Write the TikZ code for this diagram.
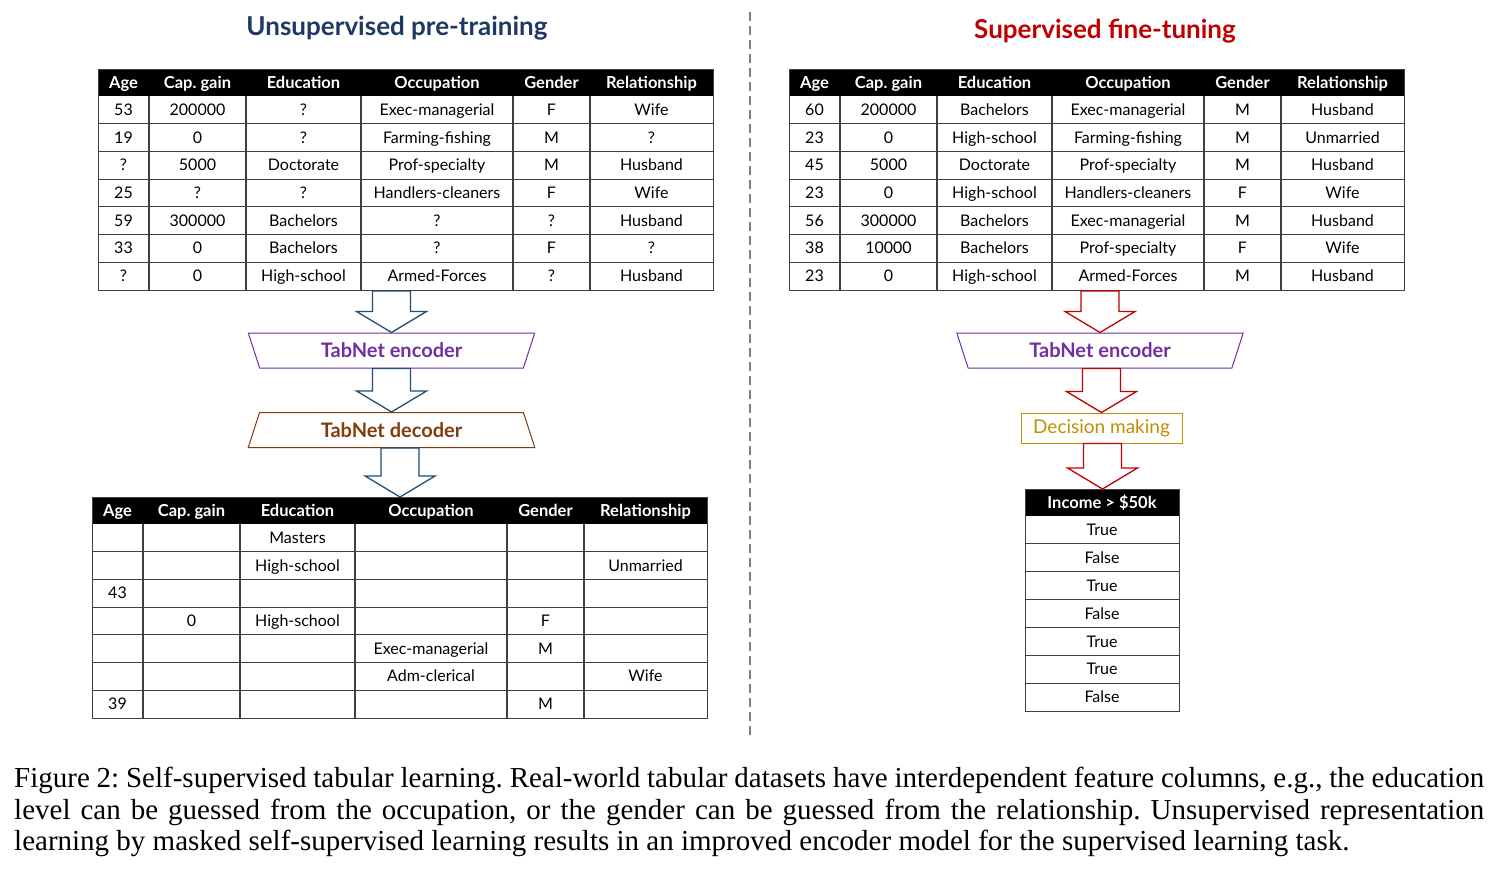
\documentclass[tikz,border=0pt]{standalone}
\usepackage{fontspec}
\setmainfont{Liberation Serif}
\newfontfamily\tabfont{Lato}
\usetikzlibrary{calc,shapes.geometric}

\definecolor{titleblue}{HTML}{1F3864}
\definecolor{titlered}{HTML}{C00000}
\definecolor{encpurple}{HTML}{7030A0}
\definecolor{decbrown}{HTML}{843C0C}
\definecolor{decgold}{HTML}{BF9000}
\definecolor{arrowblue}{HTML}{1F4E79}
\definecolor{arrowred}{HTML}{C00000}

\newcommand{\colcenters}{{25.5,99.5,205.5,339,453.5,553.5}}

% hollow block arrow, from the y of #2 down to the tip #3
\newcommand{\blockarrow}[3]{%
  \draw[#1] let \p1=(#2), \p2=(#3) in
    (\x2-19pt,\y1) -- (\x2+19pt,\y1) -- (\x2+19pt,\y2+21pt) -- (\x2+35pt,\y2+21pt)
    -- (\x2,\y2) -- (\x2-35pt,\y2+21pt) -- (\x2-19pt,\y2+21pt) -- cycle;}

% header, grid and frame of a feature table (7 rows)
\newcommand{\featuregrid}[1]{%
  \fill (0,0) rectangle (615,27);
  \foreach \x in {51,148,263,415,492}
    \draw[gridline] (\x,27) -- (\x,220.9);
  \foreach \r in {1,...,6}
    \draw[gridline] (0,{27+27.7*\r}) -- (615,{27+27.7*\r});
  \foreach \name [count=\c] in {Age,Cap. gain,Education,Occupation,Gender,Relationship}{
    \pgfmathsetmacro{\cx}{\colcenters[\c-1]}
    \node[headtext] (#1-h\c) at (\cx,13.5) {\name};
  }
  \node[tableframe, minimum width=615pt, minimum height=220.9pt] (#1) at (0,0) {};
}

\begin{document}
\frenchspacing
\begin{tikzpicture}[
            x=1pt, y=-1pt,
            gridline/.style={
                draw=black!75, line width=1.1pt
            },
            tableframe/.style={
                draw=black!75, line width=1.1pt, anchor=north west, inner sep=0pt
            },
            headtext/.style={
                text=white, inner sep=0pt, text height=13.5pt, text depth=2pt,
                font=\tabfont\bfseries\fontsize{16.5}{19}\selectfont
            },
            celltext/.style={
                inner sep=0pt, text height=13pt, text depth=2pt,
                font=\tabfont\fontsize{16}{19}\selectfont
            },
            titletext/.style={
                inner sep=0pt, font=\tabfont\bfseries\fontsize{26}{31}\selectfont
            },
            encoder/.style={
                trapezium, shape border rotate=180, trapezium angle=68,
                trapezium stretches=true, minimum width=287pt, minimum height=35pt,
                inner sep=0pt, draw=encpurple, line width=1pt, text=encpurple,
                font=\tabfont\bfseries\fontsize{20}{24}\selectfont
            },
            decoder/.style={
                encoder, shape border rotate=0, draw=decbrown, text=decbrown
            },
            bluearrow/.style={
                draw=arrowblue, line width=1.3pt, line join=miter
            },
            redarrow/.style={
                draw=arrowred, line width=1.3pt, line join=miter
            },
            captext/.style={
                text width=1470pt, align=justify, inner sep=0pt,
                font=\fontsize{29}{31.5}\selectfont
            }
        ]
        \fill[white] (0,0) rectangle (1497,872);
        \useasboundingbox (0,0) rectangle (1497,872);

        % titles and separator
        \node[titletext, text=titleblue] (pretitle) at (397,28) {Unsupervised pre-training};
        \node[titletext, text=titlered] (finetitle) at (1105,31) {Supervised fine-tuning};
        \draw[gray, line width=1.2pt, dash pattern=on 9pt off 5pt] (750,12) -- (750,735);

        % masked input table
        \begin{scope}[shift={(98,69)}]
            \featuregrid{masked}
            \foreach \row [count=\r] in {
                {53,200000,?,Exec-managerial,F,Wife},
                {19,0,?,Farming-fishing,M,?},
                {?,5000,Doctorate,Prof-specialty,M,Husband},
                {25,?,?,Handlers-cleaners,F,Wife},
                {59,300000,Bachelors,?,?,Husband},
                {33,0,Bachelors,?,F,?},
                {?,0,High-school,Armed-Forces,?,Husband}}{
                \foreach \cell [count=\c] in \row {
                    \pgfmathsetmacro{\cx}{\colcenters[\c-1]}
                    \node[celltext] (masked-\r-\c) at (\cx,{27.7*\r+13.15}) {\cell};
                }
            }
        \end{scope}

        % complete table
        \begin{scope}[shift={(789,69)}]
            \featuregrid{complete}
            \foreach \row [count=\r] in {
                {60,200000,Bachelors,Exec-managerial,M,Husband},
                {23,0,High-school,Farming-fishing,M,Unmarried},
                {45,5000,Doctorate,Prof-specialty,M,Husband},
                {23,0,High-school,Handlers-cleaners,F,Wife},
                {56,300000,Bachelors,Exec-managerial,M,Husband},
                {38,10000,Bachelors,Prof-specialty,F,Wife},
                {23,0,High-school,Armed-Forces,M,Husband}}{
                \foreach \cell [count=\c] in \row {
                    \pgfmathsetmacro{\cx}{\colcenters[\c-1]}
                    \node[celltext] (complete-\r-\c) at (\cx,{27.7*\r+13.15}) {\cell};
                }
            }
        \end{scope}

        % reconstructed values
        \begin{scope}[shift={(92,497)}]
            \featuregrid{recon}
            \foreach \r/\c/\cell in {1/3/Masters, 2/3/High-school, 2/6/Unmarried,
                    3/1/43, 4/2/0, 4/3/High-school, 4/5/F, 5/4/Exec-managerial,
                    5/5/M, 6/4/Adm-clerical, 6/6/Wife, 7/1/39, 7/5/M}{
                \pgfmathsetmacro{\cx}{\colcenters[\c-1]}
                \node[celltext] (recon-\r-\c) at (\cx,{27.7*\r+13.15}) {\cell};
            }
        \end{scope}

        % predicted labels
        \begin{scope}[shift={(1025,489)}]
            \fill (0,0) rectangle (154,27);
            \foreach \r in {1,...,6}
                \draw[gridline] (0,{27+27.9*\r}) -- (154,{27+27.9*\r});
            \node[headtext] (income-h) at (77,13.5) {Income > \$50k};
            \foreach \val [count=\r] in {True,False,True,False,True,True,False}
                \node[celltext] (income-\r) at (77,{27.9*\r+13.05}) {\val};
            \node[tableframe, minimum width=154pt, minimum height=222.3pt] (income) at (0,0) {};
        \end{scope}

        % model blocks
        \node[encoder] (encL) at (391.5,350.5) {TabNet encoder};
        \node[decoder] (decL) at (391.5,430) {TabNet decoder};
        \node[encoder] (encR) at (1100,350.5) {TabNet encoder};
        \node[draw=decgold, line width=1pt, minimum width=161pt, minimum height=30pt,
              inner sep=0pt, text=decgold, font=\tabfont\fontsize{19}{22}\selectfont]
              (decide) at (1101.5,428) {Decision making};

        % flow
        \blockarrow{bluearrow}{masked.south}{encL.north}
        \blockarrow{bluearrow}{encL.south}{decL.north}
        \blockarrow{bluearrow}{decL.south}{recon.north}
        \blockarrow{redarrow}{complete.south}{encR.north}
        \blockarrow{redarrow}{encR.south}{decide.north}
        \blockarrow{redarrow}{decide.south}{income.north}

        \node[captext, anchor=north west] (caption) at (14,767) {Figure 2: Self-supervised tabular learning. Real-world tabular datasets have interdependent feature columns, e.g., the education\linebreak level can be guessed from the occupation, or the gender can be guessed from the relationship. Unsupervised representation\linebreak learning by masked self-supervised learning results in an improved encoder model for the supervised learning task.};
        \end{tikzpicture}
\end{document}
